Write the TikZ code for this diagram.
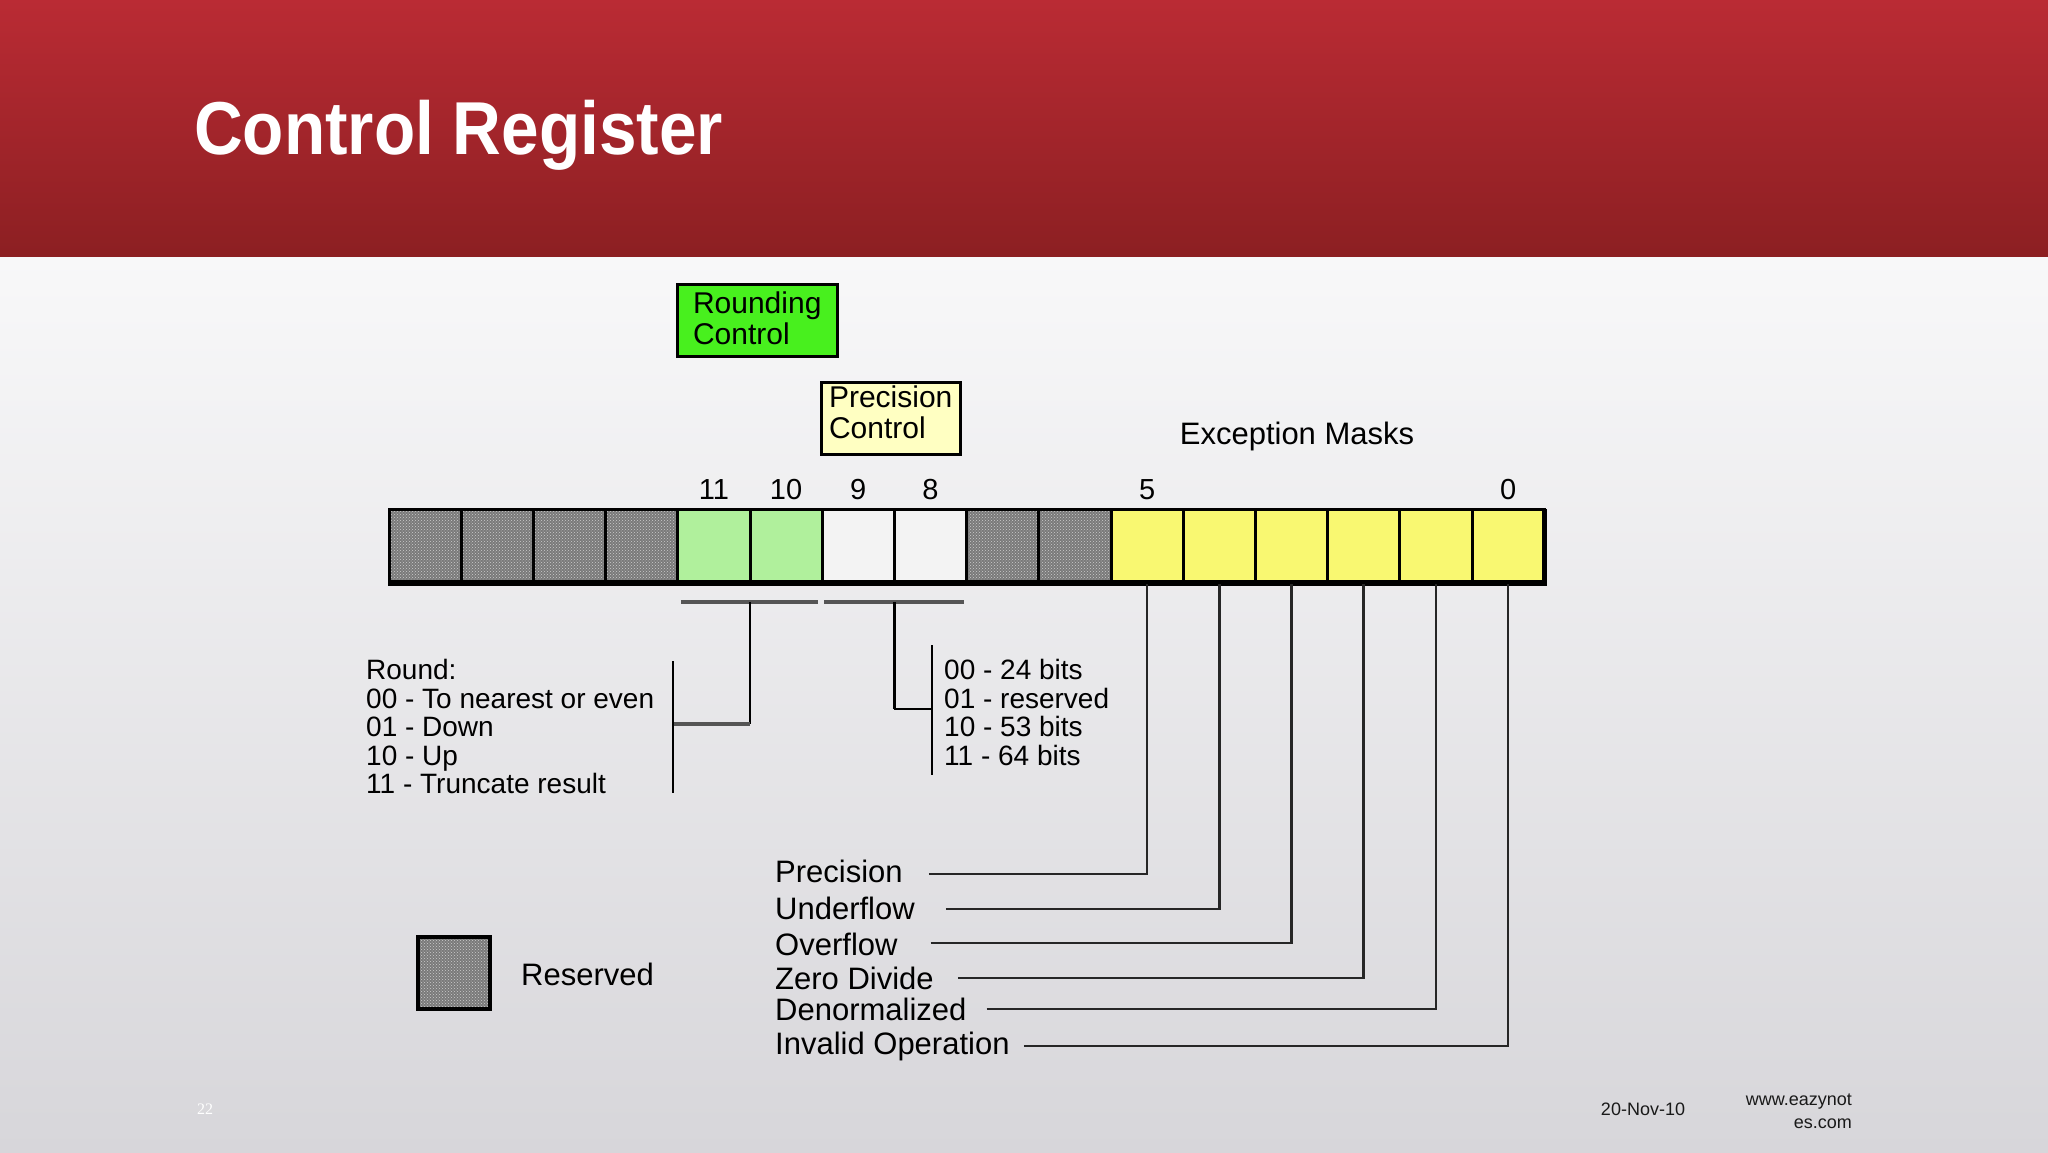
\documentclass[tikz,border=0pt]{standalone}
\usepackage{fontspec}
\setmainfont{Liberation Sans}
\newfontfamily\titlefam{Liberation Sans}[FakeStretch=0.9]
\newfontfamily\pgfam{Liberation Serif}
\usetikzlibrary{patterns,calc}
\definecolor{hdrtop}{HTML}{BA2B34}
\definecolor{hdrbot}{HTML}{8C1F22}
\definecolor{bodytop}{HTML}{F8F8F9}
\definecolor{bodybot}{HTML}{D7D6DA}
\definecolor{resgray}{HTML}{7A7A7A}
\definecolor{resdot}{HTML}{CCCCCC}
\definecolor{rndgreen}{HTML}{B0F09C}
\definecolor{prcwhite}{HTML}{F3F3F3}
\definecolor{excyellow}{HTML}{F9F871}
\definecolor{boxgreen}{HTML}{48F01E}
\definecolor{boxyellow}{HTML}{FFFFC2}
\definecolor{bargray}{HTML}{555555}
\begin{document}
\begin{tikzpicture}[x=1pt,y=-1pt,
  cell/.style={draw=black,line width=3,minimum width=72.2,minimum height=75,inner sep=0,outer sep=0},
  cres/.style={preaction={fill=resgray},pattern=crosshatch dots,pattern color=resdot},
  crnd/.style={fill=rndgreen},
  cprc/.style={fill=prcwhite},
  cexc/.style={fill=excyellow},
  lbl/.style={inner sep=0,font=\fontsize{31}{31}\selectfont,text=black},
  small/.style={inner sep=0,font=\fontsize{28}{28.5}\selectfont,text=black,align=left},
  ctlbox/.style={draw=black,line width=2.5,inner xsep=8,inner ysep=0,align=left,font=\fontsize{30}{31}\selectfont,anchor=north west},
  gbar/.style={draw=bargray,line width=4},
  tbar/.style={draw=black,line width=2.2},
  conn/.style={draw=black!85,line width=2.5},
  foot/.style={inner sep=0,font=\fontsize{18}{23}\selectfont,text=black!90}]
\useasboundingbox (0,0) rectangle (2048,1152);
% backgrounds
\shade[top color=bodytop,bottom color=bodybot] (0,256) rectangle (2048,1152);
\shade[top color=hdrtop,bottom color=hdrbot] (0,0) rectangle (2048,256);
\node[anchor=base west,inner sep=0,text=white,font=\titlefam\bfseries\fontsize{75}{80}\selectfont] (title) at (194,154) {Control Register};
% register cells
\foreach \b/\st [count=\i from 0] in {15/cres,14/cres,13/cres,12/cres,11/crnd,10/crnd,9/cprc,8/cprc,7/cres,6/cres,5/cexc,4/cexc,3/cexc,2/cexc,1/cexc,0/cexc}
  \node[cell,\st] (b\b) at ({389+72.2*\i+36.1},546.5) {};
\draw[line width=6] ($(b15.south west)+(0,-1)$) -- ($(b0.south east)+(2.5,-1)$);
\draw[line width=5] (b0.north east) -- (b0.south east);
% bit numbers
\foreach \b in {11,10,9,8,5,0}
  \node[lbl,font=\fontsize{29}{29}\selectfont] (n\b) at ($(b\b.north)+(0,-19)$) {\b};
% control boxes
\node[ctlbox,fill=boxgreen,minimum width=160,minimum height=72,inner xsep=11,text depth=5] (rc) at (676,283) {Rounding\\Control};
\node[ctlbox,fill=boxyellow,minimum width=139,minimum height=72,inner xsep=4,text depth=13] (pc) at (820,381) {Precision\\Control};
\node[lbl] (em) at (1297,436) {Exception Masks};
% rounding bracket
\draw[gbar] ($(b11.south west)+(3,18)$) -- ($(b10.south east)+(-4,18)$);
\coordinate (rtop) at ($(b11.south east)+(0,18)$);
\coordinate (rbarT) at (673,661);
\coordinate (rbarB) at (673,793);
\draw[tbar] (rtop) -- ++(0,122) coordinate (rmid);
\draw[gbar] (rmid) -- (rmid -| rbarT);
\draw[tbar] (rbarT) -- (rbarB);
\node[small,anchor=north west] (rtxt) at (366,659) {Round:\\00 - To nearest or even\\01 - Down\\10 - Up\\11 - Truncate result};
% precision bracket
\draw[gbar] ($(b9.south west)+(2,18)$) -- ($(b8.south east)+(-3,18)$);
\coordinate (ptop) at ($(b9.south east)+(0,18)$);
\coordinate (pbarT) at (932,645);
\coordinate (pbarB) at (932,775);
\draw[tbar] (ptop) -- ++(0,107) coordinate (pmid);
\draw[tbar] (pmid) -- (pmid -| pbarT);
\draw[tbar] (pbarT) -- (pbarB);
\node[small,anchor=north west] (ptxt) at (944,659) {00 - 24 bits\\01 - reserved\\10 - 53 bits\\11 - 64 bits};
% exception labels and connectors
\node[lbl,anchor=west] (lP) at (775,871) {Precision};
\node[lbl,anchor=west] (lU) at (775,908) {Underflow};
\node[lbl,anchor=west] (lO) at (775,944) {Overflow};
\node[lbl,anchor=west] (lZ) at (775,978) {Zero Divide};
\node[lbl,anchor=west] (lD) at (775,1009) {Denormalized};
\node[lbl,anchor=west] (lI) at (775,1046) {Invalid Operation};
\draw[conn] ($(lP.east)+(26,3)$) -| (b5.south);
\draw[conn] ($(lU.east)+(31,1)$) -| (b4.south);
\draw[conn] ($(lO.east)+(33,-1)$) -| (b3.south);
\draw[conn] ($(lZ.east)+(24,0)$) -| (b2.south);
\draw[conn] ($(lD.east)+(20,0)$) -| (b1.south);
\draw[conn] ($(lI.east)+(14,0)$) -| (b0.south);
% legend
\node[draw=black,line width=4,cres,minimum width=72,minimum height=72,inner sep=0] (leg) at (454,973) {};
\node[lbl,anchor=west] (legt) at (521,974) {Reserved};
% footer
\node[foot] (date) at (1643,1109) {20-Nov-10};
\node[foot,align=right,anchor=north east] (web) at (1852,1094) {www.eazynot\\es.com};
\node[inner sep=0,text=white,font=\pgfam\fontsize{16}{16}\selectfont] (pg) at (205,1109) {22};
\end{tikzpicture}
\end{document}
